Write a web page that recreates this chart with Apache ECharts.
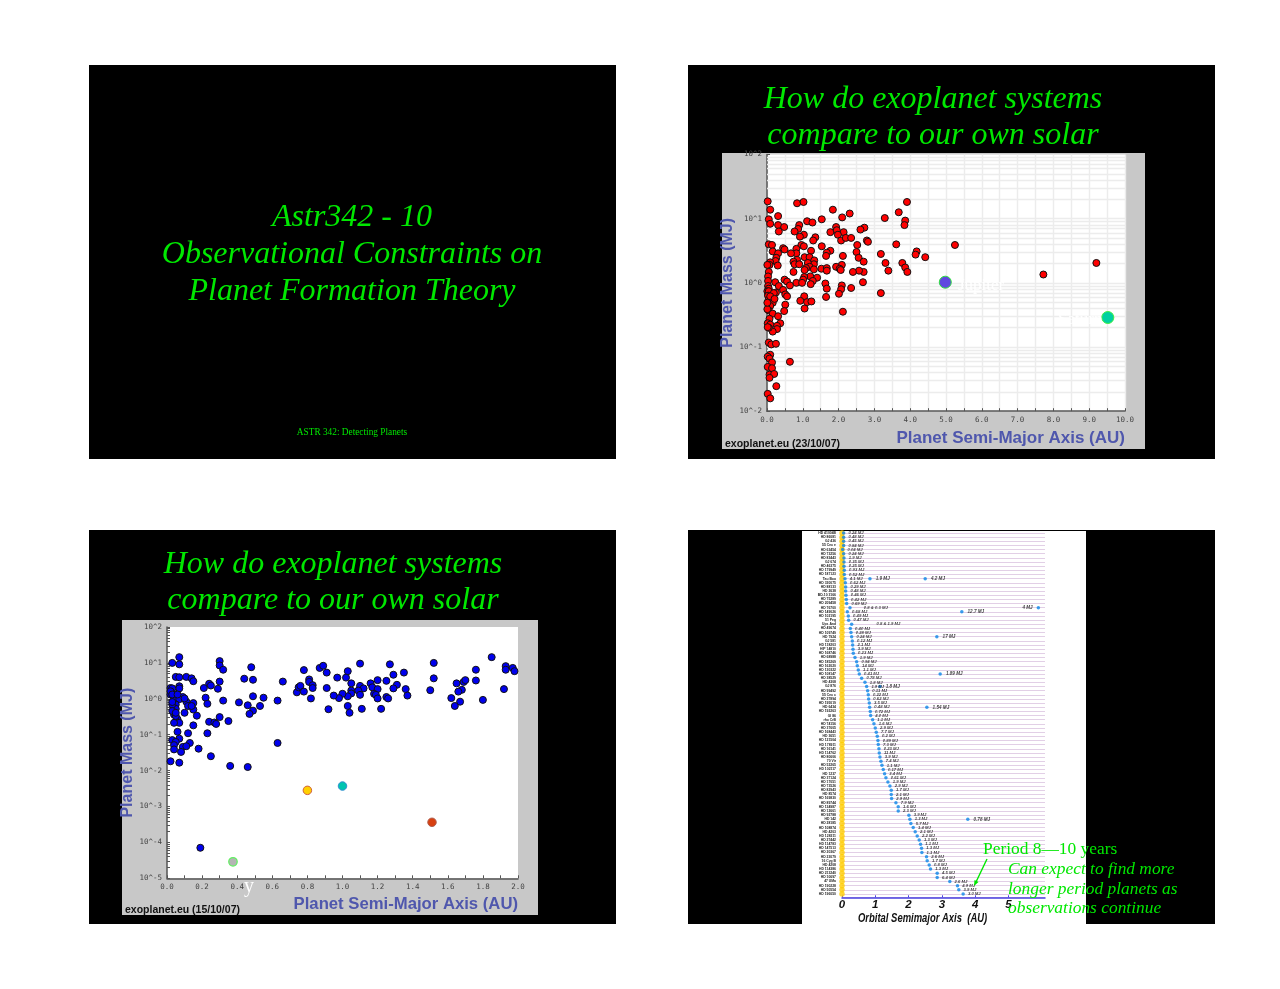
<!DOCTYPE html>
<html>
<head>
<meta charset="utf-8">
<title>Astr342 - 10</title>
<script src="https://cdn.jsdelivr.net/npm/echarts@6/dist/echarts.min.js"></script>
<style>
  html, body { margin: 0; padding: 0; background: #fff; }
  #main { width: 1280px; height: 989px; }
</style>
</head>
<body>
<div id="main"></div>
<script>
const redAU = [
  0.02, 0.84, 1.02, 0.09, 1.84, 2.31, 0.31, 2.10, 3.29, 3.68,
  3.91, 3.86, 3.84, 0.05, 0.09, 1.12, 1.27, 1.53, 0.31, 0.48,
  0.33, 0.90, 0.87, 0.77, 1.03, 0.92, 1.77, 1.93, 1.95, 2.14,
  1.98, 2.72, 2.61, 1.35, 1.29, 2.07, 2.20, 2.35, 2.79, 2.82,
  3.61, 2.52, 0.05, 0.14, 0.45, 0.49, 0.96, 1.03, 1.53, 1.77,
  1.67, 1.65, 1.23, 0.82, 0.82, 0.67, 0.16, 0.31, 2.50, 2.56,
  2.12, 3.18, 4.18, 4.15, 4.42, 0.26, 0.24, 0.09, 0.84, 0.74,
  0.77, 1.05, 1.19, 1.32, 1.31, 1.14, 1.19, 0.07, 0.01, 0.30,
  2.70, 3.31, 3.78, 3.86, 3.39, 3.92, 2.09, 1.93, 2.03, 2.06,
  1.52, 1.67, 1.67, 1.31, 1.09, 0.90, 1.05, 0.74, 2.70, 2.57,
  2.40, 0.05, 0.03, 1.21, 1.40, 1.04, 1.01, 0.49, 0.56, 0.23,
  0.03, 0.82, 0.98, 1.28, 1.22, 1.63, 2.68, 2.09, 1.67, 2.35,
  2.07, 2.01, 3.18, 0.03, 0.05, 0.09, 0.03, 0.25, 0.33, 0.45,
  0.51, 0.56, 0.64, 1.04, 1.65, 0.01, 0.93, 1.05, 1.12, 1.24,
  0.51, 0.48, 2.12, 0.05, 0.03, 0.19, 0.05, 0.16, 0.09, 0.05,
  0.16, 0.31, 0.07, 0.02, 0.09, 0.37, 0.28, 0.28, 0.16, 0.05,
  0.12, 0.25, 0.09, 0.02, 0.07, 0.14, 0.64, 0.02, 0.14, 0.07,
  0.20, 0.07, 0.26, 0.02, 0.09, 0.01, 0.09, 0.01, 0.05, 0.02,
  0.21, 5.25, 7.72, 9.20
]
const redLogMass = [
  1.27, 1.24, 1.26, 1.14, 1.14, 1.08, 1.04, 1.02, 1.01, 1.10,
  1.26, 0.97, 0.90, 0.99, 0.92, 0.96, 0.94, 0.99, 0.90, 0.87,
  0.80, 0.90, 0.84, 0.80, 0.75, 0.72, 0.79, 0.87, 0.82, 0.79,
  0.75, 0.86, 0.83, 0.71, 0.66, 0.66, 0.70, 0.70, 0.66, 0.64,
  0.60, 0.59, 0.60, 0.59, 0.54, 0.52, 0.59, 0.57, 0.57, 0.50,
  0.47, 0.42, 0.50, 0.53, 0.46, 0.46, 0.49, 0.46, 0.48, 0.39,
  0.42, 0.45, 0.49, 0.44, 0.40, 0.39, 0.34, 0.32, 0.36, 0.33,
  0.29, 0.40, 0.40, 0.35, 0.29, 0.31, 0.25, 0.28, 0.28, 0.27,
  0.33, 0.31, 0.31, 0.24, 0.19, 0.17, 0.28, 0.25, 0.22, 0.20,
  0.22, 0.23, 0.19, 0.21, 0.23, 0.29, 0.20, 0.17, 0.17, 0.19,
  0.17, 0.17, 0.10, 0.10, 0.08, 0.09, 0.05, 0.05, 0.02, 0.01,
  0.03, 0.00, 0.00, 0.03, -0.02, -0.01, 0.01, -0.04, -0.09, -0.08,
  -0.10, -0.17, -0.16, -0.05, -0.09, -0.15, -0.18, -0.15, -0.05, -0.11,
  -0.18, -0.21, -0.04, -0.21, -0.22, -0.13, -0.28, -0.40, -0.30, -0.29,
  -0.34, -0.44, -0.45, -0.13, -0.20, -0.16, -0.26, -0.31, -0.36, -0.43,
  -0.48, -0.52, -0.56, -0.63, -0.65, -0.63, -0.67, -0.72, -0.76, -0.93,
  -0.96, -0.95, -1.12, -1.15, -1.18, -1.24, -1.23, -1.31, -1.33, -1.43,
  -1.42, -1.48, -1.61, -1.73, -1.80, -0.41, -0.21, -0.31, -0.70, -0.69,
  -0.25, 0.59, 0.13, 0.31
]
const jupiterAU = [4.98]
const jupiterLogMass = [0.01]
const saturnAU = [9.52]
const saturnLogMass = [-0.54]

// slide 3: planets out to 2 AU
const blueAU = [
  0.07, 0.03, 0.07, 0.30, 0.30, 0.32, 0.48, 0.05, 0.07, 0.11,
  0.14, 0.15, 0.24, 0.25, 0.30, 0.44, 0.49, 0.66, 0.21, 0.29,
  0.07, 0.07, 0.02, 0.03, 0.02, 0.05, 0.09, 0.04, 0.07, 0.22,
  0.32, 0.11, 0.15, 0.23, 0.12, 0.15, 0.05, 0.05, 0.10, 0.04,
  0.17, 0.41, 0.46, 0.49, 0.55, 0.63, 0.53, 0.49, 0.47, 0.30,
  0.35, 0.24, 0.27, 0.28, 0.15, 0.06, 0.05, 0.07, 0.06, 0.12,
  0.23, 0.07, 0.03, 0.05, 0.13, 0.04, 0.09, 0.11, 0.04, 0.08,
  0.18, 0.25, 0.02, 0.07, 0.36, 0.46, 0.63, 0.74, 0.75, 0.76,
  0.78, 0.78, 0.81, 0.81, 0.83, 0.83, 0.82, 0.87, 0.89, 0.91,
  0.91, 0.92, 0.03, 0.02, 0.03, 0.03, 0.05, 0.03, 0.06, 0.10,
  0.14, 0.05, 0.04, 0.97, 1.02, 1.03, 1.10, 1.05, 1.10, 1.12,
  1.05, 1.09, 1.10, 1.05, 1.03, 1.00, 0.98, 0.95, 1.03, 1.04,
  1.11, 1.16, 1.17, 1.20, 1.20, 1.18, 1.19, 1.20, 1.25, 1.29,
  1.27, 1.35, 1.31, 1.29, 1.36, 1.37, 1.25, 1.26, 1.22, 1.52,
  1.52, 1.50, 1.65, 1.69, 1.70, 1.76, 1.76, 1.68, 1.66, 1.62,
  1.67, 1.64, 1.80, 1.85, 1.93, 1.93, 1.97, 1.98, 1.92, 0.19
]
const blueLogMass = [
  1.16, 1.00, 0.96, 1.05, 0.93, 0.81, 0.88, 0.61, 0.60, 0.61,
  0.57, 0.49, 0.42, 0.37, 0.48, 0.56, 0.53, 0.48, 0.30, 0.28,
  0.35, 0.29, 0.30, 0.29, 0.12, 0.12, 0.05, 0.01, -0.01, 0.03,
  -0.05, -0.08, -0.12, -0.14, -0.20, -0.30, -0.16, -0.28, -0.39, -0.44,
  -0.47, -0.10, -0.18, 0.07, 0.03, -0.05, -0.20, -0.33, -0.42, -0.51,
  -0.62, -0.64, -0.66, -0.70, -0.74, -0.57, -0.64, -0.67, -0.92, -0.96,
  -0.96, -1.11, -1.15, -1.20, -1.23, -1.29, -1.34, -1.32, -1.41, -1.48,
  -1.39, -1.60, -1.74, -1.78, -1.87, -1.90, -1.23, 0.18, 0.32, 0.36,
  0.20, 0.80, 0.54, 0.47, 0.38, 0.30, 0.01, 0.86, 0.92, 0.73,
  0.30, -0.29, -0.16, 0.21, -0.09, -0.34, -0.48, 0.12, 0.12, 0.01,
  -0.20, -0.39, -0.67, 0.59, 0.59, 0.77, 0.98, 0.43, 0.36, 0.29,
  0.23, 0.23, 0.11, 0.15, 0.07, 0.14, 0.02, 0.09, -0.20, -0.39,
  -0.28, 0.43, 0.32, 0.52, 0.27, 0.14, 0.11, 0.01, 0.50, 0.67,
  0.96, 0.73, 0.39, 0.29, 0.27, 0.09, 0.05, 0.01, -0.28, 1.00,
  0.57, 0.24, 0.43, 0.47, 0.52, 0.81, 0.51, 0.25, 0.20, 0.02,
  -0.08, -0.20, -0.03, 1.16, 0.91, 0.81, 0.86, 0.77, 0.27, -4.15
]
const solarNames = ['Mercury', 'Venus', 'Earth', 'Mars']
const solarAU = [0.376, 0.80, 1.00, 1.51]
const solarLogMass = [-4.54, -2.55, -2.43, -3.44]

// slide 4: one row per planet, sorted by semimajor axis
const starNames = [
  'HD 41004B', 'HD 86081', 'GJ 436', '55 Cnc e', 'HD 63454', 'HD 73256', 'HD 83443', 'GJ 674', 'HD 46375', 'HD 179949',
  'HD 187123', 'Tau Boo', 'HD 330075', 'HD 88133', 'HD 2638', 'BD-10 3166', 'HD 75289', 'HD 209458', 'HD 76700', 'HD 149026',
  'HD 102195', '51 Peg', 'Ups And', 'HD 49674', 'HD 109749', 'HD 7924', 'GJ 581', 'HD 118203', 'HIP 14810', 'HD 168746',
  'HD 68988', 'HD 185269', 'HD 162020', 'HD 130322', 'HD 108147', 'HD 38529', 'HD 4308', 'GJ 876', 'HD 99492', '55 Cnc c',
  'HD 27894', 'HD 195019', 'HD 6434', 'HD 192263', 'Gl 86', 'rho CrB', 'HD 74156', 'HD 37605', 'HD 168443', 'HD 3651',
  'HD 121504', 'HD 178911', 'HD 16141', 'HD 114762', 'HD 80606', '70 Vir', 'HD 52265', 'HD 102117', 'HD 1237', 'HD 37124',
  'HD 17051', 'HD 73526', 'HD 82943', 'HD 8574', 'HD 169830', 'HD 89744', 'HD 134987', 'HD 12661', 'HD 92788', 'HD 142',
  'HD 28185', 'HD 108874', 'HD 4203', 'HD 128311', 'HD 27442', 'HD 114783', 'HD 147513', 'HD 20367', 'HD 23079', '16 Cyg B',
  'HD 4208', 'HD 114386', 'HD 213240', 'HD 10697', '47 UMa', 'HD 190228', 'HD 50554', 'HD 196050'
]
const rowAU = [
  0.05, 0.05, 0.05, 0.05, 0.02, 0.05, 0.06, 0.06, 0.06, 0.07,
  0.07, 0.09, 0.10, 0.11, 0.11, 0.12, 0.13, 0.14, 0.24, 0.16,
  0.19, 0.20, 0.29, 0.25, 0.27, 0.29, 0.31, 0.32, 0.33, 0.34,
  0.39, 0.44, 0.46, 0.49, 0.52, 0.59, 0.69, 0.74, 0.77, 0.79,
  0.80, 0.82, 0.83, 0.85, 0.86, 0.92, 0.96, 1.00, 1.03, 1.06,
  1.08, 1.09, 1.11, 1.12, 1.14, 1.17, 1.20, 1.24, 1.28, 1.32,
  1.38, 1.44, 1.48, 1.48, 1.49, 1.62, 1.69, 1.69, 2.01, 2.04,
  2.07, 2.14, 2.20, 2.26, 2.32, 2.36, 2.39, 2.40, 2.54, 2.56,
  2.62, 2.66, 2.86, 2.86, 3.24, 3.47, 3.51, 3.64
]
const rowMass = [
  '0.24 MJ', '0.48 MJ', '0.45 MJ', '0.84 MJ', '0.04 MJ', '0.24 MJ', '1.9 MJ', '0.35 MJ', '0.25 MJ', '0.93 MJ',
  '0.52 MJ', '4.1 MJ', '0.62 MJ', '0.29 MJ', '0.48 MJ', '0.46 MJ', '0.42 MJ', '0.69 MJ', '0.8 & 0.3 MJ', '0.68 MJ',
  '0.49 MJ', '0.47 MJ', '0.8 & 1.9 MJ', '0.40 MJ', '0.28 MJ', '0.24 MJ', '0.12 MJ', '2.1 MJ', '3.9 MJ', '0.23 MJ',
  '1.9 MJ', '0.94 MJ', '14 MJ', '1.1 MJ', '0.41 MJ', '0.78 MJ', '1.8 MJ', '1.9 MJ', '0.11 MJ', '0.22 MJ',
  '0.62 MJ', '3.5 MJ', '0.48 MJ', '0.72 MJ', '4.0 MJ', '1.1 MJ', '1.6 MJ', '2.9 MJ', '7.7 MJ', '0.2 MJ',
  '0.89 MJ', '7.3 MJ', '0.23 MJ', '11 MJ', '3.9 MJ', '7.4 MJ', '1.1 MJ', '0.17 MJ', '3.4 MJ', '0.61 MJ',
  '1.9 MJ', '2.9 MJ', '1.7 MJ', '2.1 MJ', '2.9 MJ', '7.9 MJ', '1.6 MJ', '2.3 MJ', '3.9 MJ', '1.3 MJ',
  '5.7 MJ', '1.4 MJ', '2.1 MJ', '2.2 MJ', '1.3 MJ', '1.1 MJ', '1.3 MJ', '1.1 MJ', '2.6 MJ', '1.7 MJ',
  '0.8 MJ', '1.3 MJ', '4.5 MJ', '6.4 MJ', '2.6 MJ', '4.9 MJ', '3.9 MJ', '3.0 MJ'
]
// outer companions that sit apart from the main sequence
const outerRow = [11, 11, 19, 18, 25, 34, 37, 42, 69]
const outerAU = [0.84, 2.50, 3.60, 5.90, 2.85, 2.95, 1.14, 2.55, 3.78]
const outerMass = ['1.9 MJ', '4.2 MJ', '12.7 MJ', '4 MJ', '17 MJ', '1.89 MJ', '1.8 MJ', '1.54 MJ', '0.78 MJ']

const orbitTicks = [0, 1, 2, 3, 4, 5]
const wideAuLabels = [0, 1, 2, 3, 4, 5, 6, 7, 8, 9, 10]
const nearAuLabels = [0, 0.2, 0.4, 0.6, 0.8, 1, 1.2, 1.4, 1.6, 1.8, 2]
const minorMultiples = [2, 3, 4, 5, 6, 7, 8, 9]

const titleGreen = '#00e800'
const slateBlue = '#4f57ad'
const tickFont = { fontFamily: 'DejaVu Sans Mono', fontSize: 7.5, color: '#444' }

const toPoints = (au, logMass) => au.map((a, i) => [a, Math.pow(10, logMass[i])])

const decadeValues = (lo, hi) => {
  const out = []
  for (let d = lo; d < hi; d++) {
    minorMultiples.forEach(m => out.push(Number((m * Math.pow(10, d)).toPrecision(2))))
  }
  return out
}
const decades = (lo, hi) => {
  const out = []
  for (let d = lo; d <= hi; d++) out.push(Math.pow(10, d))
  return out
}

const logAxis = (gridIndex, lo, hi, nameGap) => ({
  type: 'log',
  gridIndex,
  logBase: 10,
  min: Math.pow(10, lo),
  max: Math.pow(10, hi),
  name: 'Planet Mass (MJ)',
  nameLocation: 'middle',
  nameGap,
  nameTextStyle: { fontFamily: 'Liberation Sans', fontWeight: 'bold', fontSize: 16, color: slateBlue },
  axisLine: { show: true, lineStyle: { color: '#555', width: 1.5 } },
  axisTick: {
    show: true,
    inside: true,
    length: 3,
    lineStyle: { color: '#555' },
    customValues: decades(lo, hi).concat(decadeValues(lo, hi))
  },
  axisLabel: {
    ...tickFont,
    margin: 5,
    customValues: decades(lo, hi),
    formatter: v => '10^' + Math.round(Math.log10(v))
  },
  splitLine: { show: false }
})

const auAxis = (gridIndex, max, interval, labels, grid, top, nameSize) => ({
  type: 'value',
  gridIndex,
  min: 0,
  max,
  interval,
  name: 'Planet Semi-Major Axis (AU)',
  nameLocation: 'end',
  nameGap: 0,
  nameTextStyle: {
    fontFamily: 'Liberation Sans', fontWeight: 'bold', fontSize: nameSize, color: slateBlue,
    align: 'right', verticalAlign: 'top', padding: [top, 0, 0, 0]
  },
  axisLine: { show: true, onZero: false, lineStyle: { color: '#555', width: 1.5 } },
  axisTick: { show: true, inside: true, length: 3, lineStyle: { color: '#555' } },
  axisLabel: { ...tickFont, margin: 5, customValues: labels, formatter: v => v.toFixed(1) },
  splitLine: { show: grid, lineStyle: { color: '#ececec', width: 1.4 } }
})

const dots = (name, xi, yi, data, color, size, border) => ({
  name,
  type: 'scatter',
  xAxisIndex: xi,
  yAxisIndex: yi,
  z: 3,
  symbolSize: size,
  itemStyle: { color, borderColor: border || '#111', borderWidth: 1, opacity: 1 },
  data
})

const text = (x, y, str, style) => ({
  type: 'text',
  x,
  y,
  z: 50,
  silent: true,
  style: { text: str, fill: titleGreen, verticalAlign: 'middle', ...style }
})
const rect = (x, y, width, height, fill) => ({
  type: 'rect',
  z: -10,
  silent: true,
  shape: { x, y, width, height },
  style: { fill }
})

const titleStyle = { font: 'italic 32px "Liberation Serif"', align: 'center' }
const noteStyle = { font: 'italic 17.4px "Liberation Serif"' }
const creditStyle = { font: 'bold 10.5px "Liberation Sans"', fill: '#111' }
const ghostStyle = { font: '17px "Liberation Serif"', fill: '#fff' }

const massLabel = (size, position, distance) => ({
  show: true,
  position,
  distance,
  fontFamily: 'Liberation Sans',
  fontStyle: 'italic',
  fontWeight: 'bold',
  fontSize: size,
  color: '#111'
})

const option = {
  animation: false,
  backgroundColor: '#fff',
  grid: [
    { left: 767, top: 154.5, width: 358, height: 256.7, show: true, backgroundColor: '#fff', borderWidth: 0, containLabel: false },
    { left: 167, top: 627, width: 351, height: 251.3, show: true, backgroundColor: '#fff', borderWidth: 0, containLabel: false },
    { left: 842, top: 533, width: 203, height: 364.3, show: false, containLabel: false }
  ],
  xAxis: [
    auAxis(0, 10, 0.5, wideAuLabels, true, 19, 17),
    auAxis(1, 2, 0.1, nearAuLabels, false, 18, 16.7),
    {
      type: 'value',
      gridIndex: 2,
      min: 0,
      max: 6.1,
      interval: 1,
      axisLine: { show: true, onZero: false, lineStyle: { color: '#4a3fe0', width: 1.5 } },
      axisTick: { show: true, inside: true, length: 2, lineStyle: { color: '#4a3fe0' }, customValues: orbitTicks },
      axisLabel: {
        customValues: orbitTicks,
        margin: 2,
        fontFamily: 'Liberation Sans',
        fontWeight: 'bold',
        fontStyle: 'italic',
        fontSize: 11.5,
        color: '#111'
      },
      splitLine: { show: false }
    }
  ],
  yAxis: [
    logAxis(0, -2, 2, 30),
    logAxis(1, -5, 2, 30),
    {
      type: 'value',
      gridIndex: 2,
      inverse: true,
      min: 0,
      max: 87.8,
      interval: 1,
      axisLine: { show: false },
      axisTick: { show: false },
      axisLabel: {
        margin: 6,
        fontFamily: 'Liberation Sans',
        fontWeight: 'bold',
        fontSize: 3.4,
        color: '#222',
        formatter: v => starNames[v] || ''
      },
      splitLine: { show: true, lineStyle: { color: '#e2cfe6', width: 1 } }
    }
  ],
  series: [
    {
      name: 'grid lines',
      type: 'scatter',
      xAxisIndex: 0,
      yAxisIndex: 0,
      z: 1,
      data: [],
      markLine: {
        silent: true,
        z: 1,
        symbol: 'none',
        animation: false,
        label: { show: false },
        lineStyle: { color: '#ececec', width: 1.4, type: 'solid' },
        data: decades(-1, 1).concat(decadeValues(-2, 2)).map(v => ({ yAxis: v }))
      }
    },
    dots('Planets to 10 AU', 0, 0, toPoints(redAU, redLogMass), '#ff0000', 7),
    dots('Jupiter', 0, 0, toPoints(jupiterAU, jupiterLogMass), '#6048e0', 12, '#30e040'),
    dots('Saturn', 0, 0, toPoints(saturnAU, saturnLogMass), '#00d0a0', 12, '#40f040'),
    dots('Planets to 2 AU', 1, 1, toPoints(blueAU, blueLogMass), '#0000ee', 7),
    {
      ...dots('Solar system', 1, 1, [], '#888', 8.5),
      data: toPoints(solarAU, solarLogMass).map((p, i) => ({
        value: p,
        name: solarNames[i],
        itemStyle: [
          { color: '#b4b4b4', borderColor: '#60f060', borderWidth: 1.2 },
          { color: '#ffd000', borderColor: '#d06040', borderWidth: 1 },
          { color: '#00c4b0', borderColor: '#3090d0', borderWidth: 1 },
          { color: '#d84010', borderColor: '#b06050', borderWidth: 1 }
        ][i]
      }))
    },
    {
      name: 'Host stars',
      type: 'scatter',
      xAxisIndex: 2,
      yAxisIndex: 2,
      z: 2,
      symbolSize: 5.5,
      itemStyle: { color: '#ffcc00' },
      data: rowAU.map((a, i) => [0, i])
    },
    {
      name: 'Planets by orbit',
      type: 'scatter',
      xAxisIndex: 2,
      yAxisIndex: 2,
      z: 3,
      symbolSize: 3.5,
      itemStyle: { color: '#0a84e8' },
      data: rowAU.map((a, i) => ({
        value: [a, i],
        // the two double systems have their text set further out
        label: massLabel(4.2, 'right', i === 18 ? 12 : i === 22 ? 23 : 3)
      }))
    },
    {
      name: 'Outer companions',
      type: 'scatter',
      xAxisIndex: 2,
      yAxisIndex: 2,
      z: 3,
      symbolSize: 3.5,
      itemStyle: { color: '#0a84e8' },
      data: outerAU.map((a, i) => ({
        value: [a, outerRow[i]],
        label: { ...massLabel(4.6, a > 5 ? 'left' : 'right', 4), formatter: () => outerMass[i] }
      }))
    }
  ],
  graphic: [
    rect(89, 65, 527, 394, '#000'),
    rect(688, 65, 527, 394, '#000'),
    rect(89, 530, 527, 394, '#000'),
    rect(688, 530, 527, 394, '#000'),
    rect(722, 153, 423, 296, '#c8c8c8'),
    rect(122, 620, 416, 295, '#c8c8c8'),
    rect(802, 531, 284, 393, '#fff'),

    text(352, 217.5, 'Astr342 - 10', titleStyle),
    text(352, 254.5, 'Observational Constraints on', titleStyle),
    text(352, 291.5, 'Planet Formation Theory', titleStyle),
    text(352, 433, 'ASTR 342: Detecting Planets', { font: '9.3px "Liberation Serif"', align: 'center' }),

    text(933, 99.5, 'How do exoplanet systems', titleStyle),
    text(933, 135.5, 'compare to our own solar', titleStyle),
    text(725, 444, 'exoplanet.eu (23/10/07)', creditStyle),
    text(958, 286, 'Jupiter', ghostStyle),
    text(1058, 320, 'Saturn', ghostStyle),

    text(333, 564.5, 'How do exoplanet systems', titleStyle),
    text(333, 601, 'compare to our own solar', titleStyle),
    text(125, 910, 'exoplanet.eu (15/10/07)', creditStyle),
    text(244, 887, 'y', { font: '20px "Liberation Serif"', fill: '#fff' }),

    text(983, 849, 'Period 8\u201410 years', { font: '17.4px "Liberation Serif"' }),
    text(1008, 869, 'Can expect to find more', noteStyle),
    text(1008, 889, 'longer period planets as', noteStyle),
    text(1008, 908, 'observations continue', noteStyle),
    {
      ...text(858, 918, 'Orbital Semimajor Axis  (AU)', { font: 'italic bold 13.5px "Liberation Sans"', fill: '#111' }),
      scaleX: 0.7
    },
    {
      type: 'polyline',
      z: 50,
      silent: true,
      shape: { points: [[987, 859], [976, 882]] },
      style: { stroke: titleGreen, lineWidth: 1.4, fill: 'none' }
    },
    {
      type: 'polygon',
      z: 50,
      silent: true,
      shape: { points: [[974, 886], [974.5, 880], [978.5, 882]] },
      style: { fill: titleGreen }
    }
  ]
}

// labels for the main sequence come from rowMass
option.series[7].data.forEach((d, i) => { d.label.formatter = () => rowMass[i] })

const chart = echarts.init(document.getElementById('main'), null, { renderer: 'canvas', width: 1280, height: 989 })
chart.setOption(option)
</script>
</body>
</html>
